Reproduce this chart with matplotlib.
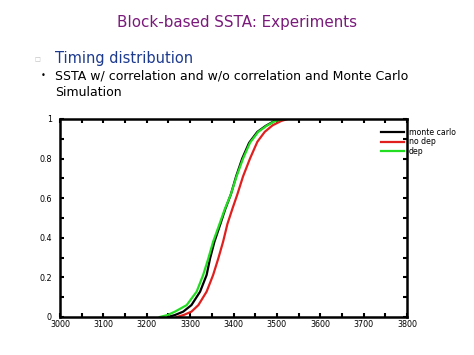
import matplotlib
matplotlib.use("Agg")
import matplotlib.pyplot as plt
from matplotlib.ticker import MultipleLocator, FixedLocator

# Data
mc_x = [3249, 3265, 3284, 3303, 3323, 3338, 3346, 3356, 3369, 3381, 3394, 3406, 3420, 3436, 3455, 3474, 3494, 3520]
mc_y = [0, 0.01, 0.027, 0.06, 0.128, 0.212, 0.296, 0.38, 0.465, 0.545, 0.62, 0.71, 0.80, 0.88, 0.935, 0.965, 0.99, 1.0]

nodep_x = [3269, 3285, 3303, 3319, 3338, 3353, 3365, 3376, 3386, 3398, 3409, 3422, 3438, 3455, 3472, 3490, 3510, 3525]
nodep_y = [0, 0.01, 0.027, 0.06, 0.128, 0.212, 0.296, 0.38, 0.47, 0.55, 0.62, 0.71, 0.80, 0.885, 0.935, 0.968, 0.99, 1.0]

dep_x = [3230, 3248, 3265, 3292, 3315, 3330, 3342, 3353, 3367, 3380, 3394, 3407, 3422, 3438, 3457, 3476, 3496, 3515]
dep_y = [0, 0.01, 0.027, 0.06, 0.128, 0.212, 0.296, 0.38, 0.465, 0.545, 0.62, 0.71, 0.80, 0.88, 0.935, 0.965, 0.99, 1.0]

series_labels = ["monte carlo", "no dep", "dep"]
x_ticks = [3000, 3100, 3200, 3300, 3400, 3500, 3600, 3700, 3800]
y_ticks = [0, 0.2, 0.4, 0.6, 0.8, 1]
y_tick_labels = ["0", "0.2", "0.4", "0.6", "0.8", "1"]

title = "Block-based SSTA: Experiments"
heading = "Timing distribution"
bullet_line1 = "SSTA w/ correlation and w/o correlation and Monte Carlo"
bullet_line2 = "Simulation"

W, H = 474, 355
fig = plt.figure(figsize=(W / 100, H / 100), dpi=100)
fig.patch.set_facecolor("white")

def fx(px):
    return px / W

def fy(py):
    return 1 - py / H

fig.text(fx(237), fy(22), title, color="#7a1a7a", fontsize=10.9,
         ha="center", va="center", family="DejaVu Sans")
fig.text(fx(37.5), fy(60), "\u25a1", color="#bbbbbb", fontsize=4.5,
         ha="center", va="center", family="DejaVu Sans")
fig.text(fx(55), fy(58), heading, color="#1c3a8e", fontsize=10.5,
         ha="left", va="center", family="DejaVu Sans")
fig.text(fx(43), fy(76), "\u2022", color="black", fontsize=6,
         ha="center", va="center", family="DejaVu Sans")
fig.text(fx(55), fy(76), bullet_line1, color="black", fontsize=9.0,
         ha="left", va="center", family="DejaVu Sans")
fig.text(fx(55), fy(92), bullet_line2, color="black", fontsize=9.0,
         ha="left", va="center", family="DejaVu Sans")

ax = fig.add_axes([fx(60), fy(317), fx(407) - fx(60), fy(119) - fy(317)])
l1, = ax.plot(mc_x, mc_y, color="black", lw=1.6, label=series_labels[0],
              solid_joinstyle="round")
l2, = ax.plot(nodep_x, nodep_y, color="#e0201e", lw=1.6, label=series_labels[1],
              solid_joinstyle="round")
l3, = ax.plot(dep_x, dep_y, color="#22dd22", lw=1.6, label=series_labels[2],
              solid_joinstyle="round")

ax.set_xlim(3000, 3800)
ax.set_ylim(0, 1)
ax.xaxis.set_major_locator(FixedLocator(x_ticks))
ax.xaxis.set_minor_locator(MultipleLocator(50))
ax.yaxis.set_major_locator(FixedLocator(y_ticks))
ax.set_yticklabels(y_tick_labels)
ax.yaxis.set_minor_locator(MultipleLocator(0.1))
ax.tick_params(which="both", direction="in", top=True, right=True,
               length=3, width=1.5, color="black")
ax.tick_params(axis="x", which="major", labelsize=5.8, pad=2.5)
ax.tick_params(axis="y", which="major", labelsize=5.8, pad=6)
for sp in ax.spines.values():
    sp.set_linewidth(1.8)

leg = ax.legend(handles=[l1, l2, l3], loc="upper left",
                bbox_to_anchor=(fx(381), fy(128)), bbox_transform=fig.transFigure,
                frameon=False, fontsize=5.6, handlelength=3.0, handletextpad=0.55,
                labelspacing=0.05, borderpad=0, borderaxespad=0)
leg.set_zorder(10)

fig.savefig("out.png", dpi=100, facecolor="white")
